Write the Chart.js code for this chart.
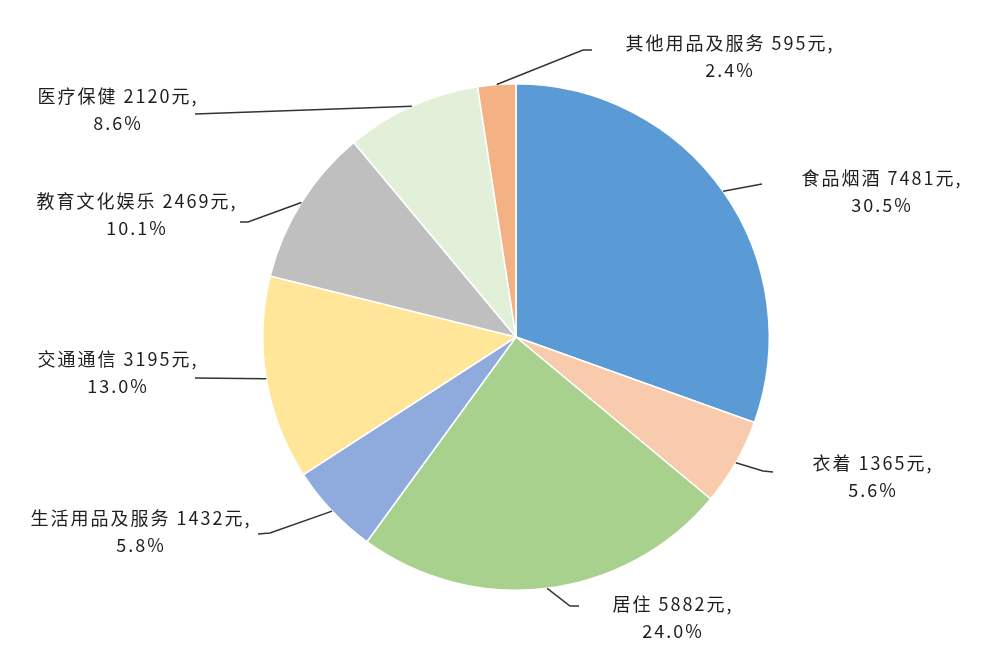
<!DOCTYPE html>
<html>
<head>
<meta charset="utf-8">
<script src="https://cdn.jsdelivr.net/npm/chart.js@4/dist/chart.umd.min.js"></script>
<style>
  html, body { margin: 0; padding: 0; background: #fff; }
  #wrap { width: 1000px; height: 672px; }
</style>
</head>
<body>
<div id="wrap"><canvas id="pie-chart" width="1000" height="672"></canvas></div>
<script>
// spending categories, yuan per person
const categories = ['食品烟酒', '衣着', '居住', '生活用品及服务', '交通通信', '教育文化娱乐', '医疗保健', '其他用品及服务'];
const spending = [7481, 1365, 5882, 1432, 3195, 2469, 2120, 595];

const sliceColors = ['#5b9bd5', '#f8cbad', '#a9d18e', '#8faadc', '#ffe699', '#bfbfbf', '#e2f0d9', '#f4b183'];

// where each label goes: leader line bend points and text centre
const labelLayout = [
    { path: [[762, 184]], tx: 882, ty: 178 },
    { path: [[763, 471], [773, 472]], tx: 873, ty: 463 },
    { path: [[570, 606], [579, 606]], tx: 673, ty: 604 },
    { path: [[270, 533], [258, 534]], tx: 141, ty: 518 },
    { path: [[195, 378]], tx: 118, ty: 359 },
    { path: [[248, 222], [240, 222]], tx: 137, ty: 201 },
    { path: [[195, 114]], tx: 118, ty: 96 },
    { path: [[583, 50], [592, 50]], tx: 730, ty: 43 }
];

const total = spending.reduce((a, b) => a + b, 0);

const leaderLabels = {
    id: 'leaderLabels',
    afterDraw(chart) {
        let ctx = chart.ctx;
        let arcs = chart.getDatasetMeta(0).data;
        ctx.save();
        arcs.forEach((arc, i) => {
            let mid = (arc.startAngle + arc.endAngle) / 2;
            let ax = arc.x + Math.cos(mid) * arc.outerRadius;
            let ay = arc.y + Math.sin(mid) * arc.outerRadius;
            let lay = labelLayout[i];

            ctx.strokeStyle = '#333';
            ctx.lineWidth = 1.5;
            ctx.beginPath();
            ctx.moveTo(ax, ay);
            lay.path.forEach(p => ctx.lineTo(p[0], p[1]));
            ctx.stroke();

            let pct = (spending[i] / total * 100).toFixed(1) + '%';
            ctx.fillStyle = '#1e1e1e';
            ctx.font = '18px "Noto Sans CJK SC", "Noto Sans", sans-serif';
            ctx.letterSpacing = '2px';
            ctx.textAlign = 'center';
            ctx.textBaseline = 'middle';
            ctx.fillText(categories[i] + ' ' + spending[i] + '元,', lay.tx, lay.ty);
            ctx.fillText(pct, lay.tx, lay.ty + 27);
        });
        ctx.restore();
    }
};

function initPie(){
    let ctx = document.getElementById('pie-chart').getContext('2d');

    let chart = new Chart(ctx, {
        type: 'pie',
        data: {
            labels: categories,
            datasets: [{
                data: spending,
                backgroundColor: sliceColors,
                borderColor: '#ffffff',
                borderWidth: 1.5,
                hoverOffset: 0
            }]
        },
        options: {
            responsive: false,
            animation: false,
            layout: { padding: { left: 262, right: 230, top: 83, bottom: 81 } },
            plugins: {
                legend: { display: false },
                tooltip: { enabled: false }
            }
        },
        plugins: [leaderLabels]
    });
}

initPie();
</script>
</body>
</html>
